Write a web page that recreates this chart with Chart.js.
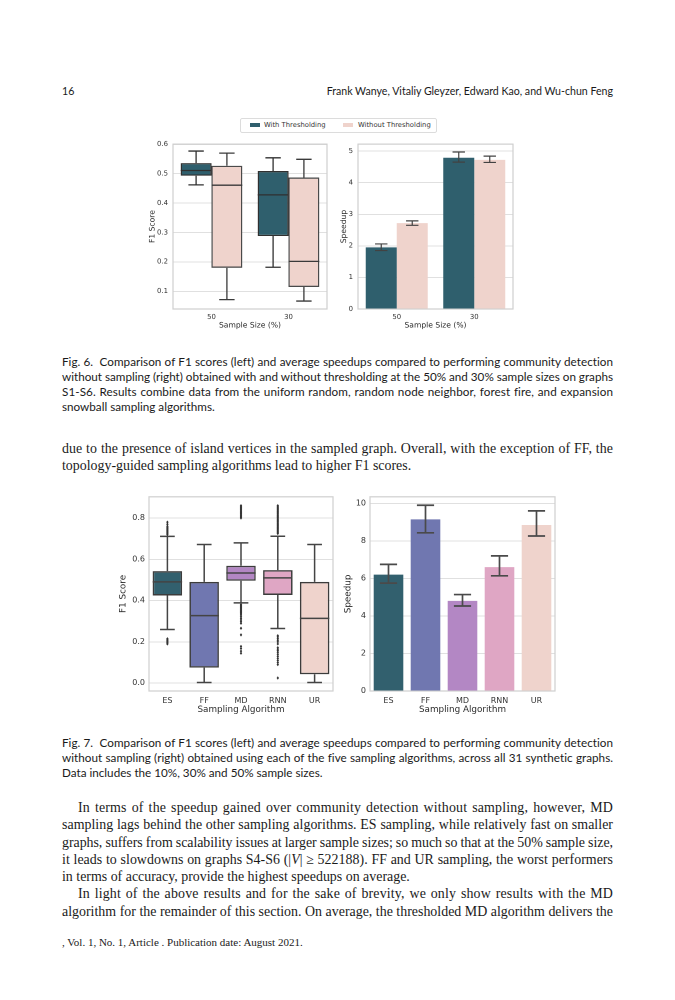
<!DOCTYPE html>
<html><head><meta charset="utf-8">
<script src="https://cdn.jsdelivr.net/npm/chart.js@4.4.0/dist/chart.umd.min.js"></script>
<style>
body{margin:0;background:#fff;}
#page{position:relative;width:675px;height:1000px;overflow:hidden;background:#fff;}
canvas{position:absolute;}
.t{position:absolute;white-space:nowrap;line-height:16px;height:16px;color:#1a1a1a;}
.cap{font-family:Lato,'Noto Sans',sans-serif;font-size:10.8px;}
.bd{font-family:'Liberation Serif',serif;font-size:13.5px;}
.hd{font-family:Lato,sans-serif;font-size:10.6px;}
.ft{font-family:'Liberation Serif',serif;font-size:11px;}
#legend{position:absolute;left:240px;top:118px;width:195px;height:13px;border:1px solid #dcdcdc;border-radius:2px;font-family:'DejaVu Sans',sans-serif;font-size:6.8px;color:#333;}
#legend span{position:absolute;top:2px;line-height:9px;}
#legend i{position:absolute;top:4px;width:10px;height:4px;}
</style></head>
<body><div id="page">
<div class="t hd" style="left:62px;top:83px;">16</div>
<div class="t hd" style="left:300px;top:83px;width:313px;text-align:right;">Frank Wanye, Vitaliy Gleyzer, Edward Kao, and Wu-chun Feng</div>

<div id="legend">
  <i style="left:9px;background:#2f5f6d"></i><span style="left:23px">With Thresholding</span>
  <i style="left:102px;background:#efd3cc"></i><span style="left:117px">Without Thresholding</span>
</div>

<canvas id="c1" width="200" height="205" style="left:130px;top:135px"></canvas>
<canvas id="c2" width="190" height="205" style="left:330px;top:135px"></canvas>

<div class="t cap j" style="left:62px;top:353px;width:551px;">Fig. 6.&nbsp; Comparison of F1 scores (left) and average speedups compared to performing community detection</div>
<div class="t cap j" style="left:62px;top:368px;width:551px;">without sampling (right) obtained with and without thresholding at the 50% and 30% sample sizes on graphs</div>
<div class="t cap j" style="left:62px;top:383px;width:551px;">S1-S6. Results combine data from the uniform random, random node neighbor, forest fire, and expansion</div>
<div class="t cap" style="left:62px;top:398px;">snowball sampling algorithms.</div>

<div class="t bd j" style="left:62px;top:441px;width:551px;">due to the presence of island vertices in the sampled graph. Overall, with the exception of FF, the</div>
<div class="t bd" style="left:62px;top:458px;">topology-guided sampling algorithms lead to higher F1 scores.</div>

<canvas id="c3" width="232" height="237" style="left:105px;top:488px"></canvas>
<canvas id="c4" width="225" height="237" style="left:337px;top:488px"></canvas>

<div class="t cap j" style="left:62px;top:734px;width:551px;">Fig. 7.&nbsp; Comparison of F1 scores (left) and average speedups compared to performing community detection</div>
<div class="t cap j" style="left:62px;top:749px;width:551px;">without sampling (right) obtained using each of the five sampling algorithms, across all 31 synthetic graphs.</div>
<div class="t cap" style="left:62px;top:764px;">Data includes the 10%, 30% and 50% sample sizes.</div>

<div class="t bd j" style="left:78px;top:800px;width:535px;">In terms of the speedup gained over community detection without sampling, however, MD</div>
<div class="t bd j" style="left:62px;top:817px;width:551px;">sampling lags behind the other sampling algorithms. ES sampling, while relatively fast on smaller</div>
<div class="t bd j" style="left:62px;top:835px;width:551px;">graphs, suffers from scalability issues at larger sample sizes; so much so that at the 50% sample size,</div>
<div class="t bd j" style="left:62px;top:852px;width:551px;">it leads to slowdowns on graphs S4-S6 (|<i>V</i>| ≥ 522188). FF and UR sampling, the worst performers</div>
<div class="t bd" style="left:62px;top:869px;">in terms of accuracy, provide the highest speedups on average.</div>
<div class="t bd j" style="left:78px;top:886px;width:535px;">In light of the above results and for the sake of brevity, we only show results with the MD</div>
<div class="t bd j" style="left:62px;top:904px;width:551px;">algorithm for the remainder of this section. On average, the thresholded MD algorithm delivers the</div>

<div class="t ft" style="left:62px;top:934px;">, Vol. 1, No. 1, Article . Publication date: August 2021.</div>
</div>
<script>
// ---------- DATA ----------
// Fig. 6 left: F1 score box plots
const sampleSizes = ['50', '30'];
const seriesNames = ['With Thresholding', 'Without Thresholding'];
const withLo  = [0.462, 0.182];
const withQ1  = [0.493, 0.288];
const withMed = [0.511, 0.428];
const withQ3  = [0.536, 0.509];
const withHi  = [0.577, 0.554];
const woLo  = [0.072, 0.067];
const woQ1  = [0.180, 0.115];
const woMed = [0.461, 0.202];
const woQ3  = [0.527, 0.487];
const woHi  = [0.570, 0.549];
const f1TicksA = [0.1, 0.2, 0.3, 0.4, 0.5, 0.6];
const f1TickLabelsA = ['0.1', '0.2', '0.3', '0.4', '0.5', '0.6'];

// Fig. 6 right: speedup bars with error bars
const withSpeed   = [1.95, 4.79];
const withErrLo   = [1.85, 4.65];
const withErrHi   = [2.06, 4.97];
const woSpeed     = [2.72, 4.72];
const woErrLo     = [2.65, 4.64];
const woErrHi     = [2.79, 4.84];
const spTicksA = [0, 1, 2, 3, 4, 5];
const spTickLabelsA = ['0', '1', '2', '3', '4', '5'];

// Fig. 7 left: F1 score box plots per algorithm
const algorithms = ['ES', 'FF', 'MD', 'RNN', 'UR'];
const algLo  = [0.260, 0.003, 0.389, 0.265, 0.003];
const algQ1  = [0.425, 0.075, 0.496, 0.427, 0.043];
const algMed = [0.491, 0.327, 0.534, 0.510, 0.314];
const algQ3  = [0.543, 0.491, 0.569, 0.548, 0.491];
const algHi  = [0.711, 0.672, 0.680, 0.712, 0.672];
const outES  = [0.72, 0.725, 0.73, 0.735, 0.74, 0.745, 0.75, 0.755, 0.76, 0.77, 0.78, 0.19, 0.195, 0.2, 0.205, 0.21, 0.215];
const outFF  = [];
const outMD  = [0.80, 0.805, 0.81, 0.815, 0.82, 0.825, 0.83, 0.835, 0.84, 0.845, 0.85, 0.855, 0.86,
                0.381, 0.376, 0.371, 0.366, 0.361, 0.356, 0.351, 0.346, 0.341, 0.336, 0.33, 0.322, 0.314, 0.306, 0.298, 0.29, 0.266, 0.234, 0.178, 0.168, 0.155, 0.145];
const outRNN = [0.725, 0.73, 0.735, 0.74, 0.745, 0.75, 0.755, 0.76, 0.765, 0.77, 0.775, 0.78, 0.785, 0.79, 0.795, 0.80, 0.805, 0.81, 0.815, 0.82, 0.825, 0.83, 0.835, 0.84, 0.845, 0.85, 0.855, 0.86,
                0.23, 0.224, 0.216, 0.208, 0.2, 0.19, 0.172, 0.165, 0.158, 0.15, 0.14, 0.13, 0.12, 0.11, 0.1, 0.09, 0.025];
const outUR  = [];
const f1TicksB = [0.0, 0.2, 0.4, 0.6, 0.8];
const f1TickLabelsB = ['0.0', '0.2', '0.4', '0.6', '0.8'];

// Fig. 7 right: speedup per algorithm
const algSpeed = [6.20, 9.15, 4.80, 6.60, 8.85];
const algErrLo = [5.75, 8.43, 4.53, 6.14, 8.26];
const algErrHi = [6.75, 9.90, 5.14, 7.20, 9.60];
const spTicksB = [0, 2, 4, 6, 8, 10];
const spTickLabelsB = ['0', '2', '4', '6', '8', '10'];

// ---------- STYLE ----------
const TEAL = '#2f5f6d', PINK = '#efd3cc';
const algColors = ['#32606e', '#7077b0', '#b387c4', '#dfa6c4', '#efd3cc'];
const FONT = "'DejaVu Sans', sans-serif";

// ---------- PLUGINS ----------
const framePlugin = {
  id: 'frame',
  beforeDatasetsDraw(chart) {
    const {ctx, chartArea: a} = chart;
    ctx.save();
    ctx.strokeStyle = '#cfcfcf';
    ctx.lineWidth = 1.2;
    ctx.strokeRect(a.left, a.top, a.right - a.left, a.bottom - a.top);
    ctx.restore();
  }
};

const boxPlugin = {
  id: 'boxWhisker',
  afterDatasetsDraw(chart) {
    const {ctx} = chart;
    const y = chart.scales.y;
    chart.data.datasets.forEach((ds, di) => {
      if (!ds.box) return;
      const meta = chart.getDatasetMeta(di);
      ctx.save();
      ctx.strokeStyle = ds.lineColor;
      ctx.lineWidth = ds.lineW;
      meta.data.forEach((bar, i) => {
        const x = bar.x, w = bar.width;
        const b = ds.box;
        const pq1 = y.getPixelForValue(b.q1[i]), pq3 = y.getPixelForValue(b.q3[i]);
        const plo = y.getPixelForValue(b.lo[i]), phi = y.getPixelForValue(b.hi[i]);
        const pm = y.getPixelForValue(b.med[i]);
        const cw = w * 0.25;
        ctx.beginPath();
        ctx.moveTo(x, pq3); ctx.lineTo(x, phi);
        ctx.moveTo(x - cw, phi); ctx.lineTo(x + cw, phi);
        ctx.moveTo(x, pq1); ctx.lineTo(x, plo);
        ctx.moveTo(x - cw, plo); ctx.lineTo(x + cw, plo);
        ctx.moveTo(x - w / 2, pm); ctx.lineTo(x + w / 2, pm);
        ctx.stroke();
        if (b.out && b.out[i]) {
          ctx.fillStyle = ds.outColor;
          b.out[i].forEach(v => {
            const py = y.getPixelForValue(v);
            ctx.beginPath();
            ctx.moveTo(x, py - 1.7); ctx.lineTo(x + 1.2, py); ctx.lineTo(x, py + 1.7); ctx.lineTo(x - 1.2, py);
            ctx.closePath(); ctx.fill();
          });
        }
      });
      ctx.restore();
    });
  }
};

const errPlugin = {
  id: 'errBars',
  afterDatasetsDraw(chart) {
    const {ctx} = chart;
    const y = chart.scales.y;
    chart.data.datasets.forEach((ds, di) => {
      if (!ds.err) return;
      const meta = chart.getDatasetMeta(di);
      ctx.save();
      ctx.strokeStyle = ds.errColor;
      ctx.lineWidth = ds.errW;
      meta.data.forEach((bar, i) => {
        const x = bar.x, cw = bar.width * ds.capRatio / 2;
        const pl = y.getPixelForValue(ds.err.lo[i]), ph = y.getPixelForValue(ds.err.hi[i]);
        ctx.beginPath();
        ctx.moveTo(x, pl); ctx.lineTo(x, ph);
        ctx.moveTo(x - cw, ph); ctx.lineTo(x + cw, ph);
        ctx.moveTo(x - cw, pl); ctx.lineTo(x + cw, pl);
        ctx.stroke();
      });
      ctx.restore();
    });
  }
};

// ---------- CHART BUILDER ----------
function makeChart(id, cfg) {
  const {labels, datasets, yMin, yMax, yTicks, yTickLabels, yTitle, xTitle,
         yWidth, xHeight, padTop, padRight, tickSize, titleSize, yTitlePad, xTitlePad,
         yTickPad, xTickPad, catPct, barPct, plugins} = cfg;
  return new Chart(document.getElementById(id), {
    type: 'bar',
    data: {labels, datasets},
    plugins: [framePlugin].concat(plugins),
    options: {
      responsive: false, animation: false,
      devicePixelRatio: 2,
      layout: {padding: {top: padTop, right: padRight, left: 0, bottom: 0}},
      datasets: {bar: {categoryPercentage: catPct, barPercentage: barPct}},
      plugins: {legend: {display: false}, tooltip: {enabled: false}},
      scales: {
        x: {
          grid: {display: false, drawTicks: false},
          border: {display: false},
          ticks: {color: '#333', font: {family: FONT, size: tickSize}, padding: xTickPad, maxRotation: 0},
          title: {display: true, text: xTitle, color: '#2a2a2a', font: {family: FONT, size: titleSize}, padding: {top: 0, bottom: xTitlePad}},
          afterFit(s) { s.height = xHeight; }
        },
        y: {
          min: yMin, max: yMax,
          grid: {color: '#e0e0e0', lineWidth: 1, drawTicks: false},
          border: {display: false},
          afterBuildTicks(s) { s.ticks = yTicks.map(v => ({value: v})); },
          ticks: {color: '#333', font: {family: FONT, size: tickSize}, padding: yTickPad,
                  callback: (v, i) => yTickLabels[i]},
          title: {display: true, text: yTitle, color: '#2a2a2a', font: {family: FONT, size: titleSize}, padding: {top: yTitlePad, bottom: 0}},
          afterFit(s) { s.width = yWidth; }
        }
      }
    }
  });
}

const pair = (a, b) => a.map((v, i) => [v, b[i]]);

// Fig 6 left
makeChart('c1', {
  labels: sampleSizes,
  datasets: [
    {label: seriesNames[0], data: pair(withQ1, withQ3), backgroundColor: TEAL, borderColor: '#303030', borderWidth: 1.3, borderSkipped: false,
     box: {lo: withLo, q1: withQ1, med: withMed, q3: withQ3, hi: withHi}, lineColor: '#303030', lineW: 1.3},
    {label: seriesNames[1], data: pair(woQ1, woQ3), backgroundColor: PINK, borderColor: '#4a4a4a', borderWidth: 1.3, borderSkipped: false,
     box: {lo: woLo, q1: woQ1, med: woMed, q3: woQ3, hi: woHi}, lineColor: '#3a3a3a', lineW: 1.3}
  ],
  yMin: 0.04, yMax: 0.6005, yTicks: f1TicksA, yTickLabels: f1TickLabelsA,
  yTitle: 'F1 Score', xTitle: 'Sample Size (%)',
  yWidth: 43, xHeight: 31, padTop: 9, padRight: 3,
  tickSize: 6.9, titleSize: 7.6, yTitlePad: 18, xTitlePad: 10, yTickPad: 5, xTickPad: 4,
  catPct: 0.8, barPct: 1.0, plugins: [boxPlugin]
});

// Fig 6 right
makeChart('c2', {
  labels: sampleSizes,
  datasets: [
    {label: seriesNames[0], data: withSpeed, backgroundColor: TEAL, borderWidth: 0,
     err: {lo: withErrLo, hi: withErrHi}, errColor: '#424242', errW: 1.2, capRatio: 0.4},
    {label: seriesNames[1], data: woSpeed, backgroundColor: PINK, borderWidth: 0,
     err: {lo: woErrLo, hi: woErrHi}, errColor: '#424242', errW: 1.2, capRatio: 0.4}
  ],
  yMin: 0, yMax: 5.22, yTicks: spTicksA, yTickLabels: spTickLabelsA,
  yTitle: 'Speedup', xTitle: 'Sample Size (%)',
  yWidth: 28, xHeight: 31, padTop: 9, padRight: 7,
  tickSize: 6.9, titleSize: 7.6, yTitlePad: 9.5, xTitlePad: 10, yTickPad: 5, xTickPad: 4,
  catPct: 0.8, barPct: 1.0, plugins: [errPlugin]
});

// Fig 7 left
makeChart('c3', {
  labels: algorithms,
  datasets: [
    {label: 'F1 Score', data: pair(algQ1, algQ3), backgroundColor: algColors, borderColor: '#3c3c3c', borderWidth: 1.5, borderSkipped: false,
     box: {lo: algLo, q1: algQ1, med: algMed, q3: algQ3, hi: algHi, out: [outES, outFF, outMD, outRNN, outUR]},
     lineColor: '#444444', lineW: 1.5, outColor: '#333333'}
  ],
  yMin: -0.038, yMax: 0.903, yTicks: f1TicksB, yTickLabels: f1TickLabelsB,
  yTitle: 'F1 Score', xTitle: 'Sampling Algorithm',
  yWidth: 44, xHeight: 34, padTop: 6, padRight: 4,
  tickSize: 8, titleSize: 8.8, yTitlePad: 13, xTitlePad: 10, yTickPad: 4, xTickPad: 5,
  catPct: 1.0, barPct: 0.8, plugins: [boxPlugin]
});

// Fig 7 right
makeChart('c4', {
  labels: algorithms,
  datasets: [
    {label: 'Speedup', data: algSpeed, backgroundColor: algColors, borderWidth: 0,
     err: {lo: algErrLo, hi: algErrHi}, errColor: '#4a4a4a', errW: 1.7, capRatio: 0.58}
  ],
  yMin: 0, yMax: 10.35, yTicks: spTicksB, yTickLabels: spTickLabelsB,
  yTitle: 'Speedup', xTitle: 'Sampling Algorithm',
  yWidth: 33, xHeight: 34, padTop: 6, padRight: 7,
  tickSize: 8, titleSize: 8.8, yTitlePad: 6, xTitlePad: 10, yTickPad: 4, xTickPad: 5,
  catPct: 1.0, barPct: 0.8, plugins: [errPlugin]
});

// ---------- fit font size per text class, then justify lines ----------
function fitClass(cls) {
  const all = Array.from(document.querySelectorAll('.' + cls));
  const js = all.filter(e => e.classList.contains('j'));
  const base = parseFloat(getComputedStyle(js[0]).fontSize);
  const ratios = [];
  js.forEach(el => {
    const target = parseFloat(el.style.width);
    el.dataset.w = target;
    el.style.width = 'auto';
    const w = el.getBoundingClientRect().width;
    ratios.push(target / w);
  });
  ratios.sort((a, b) => a - b);
  const r = ratios[Math.floor(ratios.length / 2)];
  const size = Math.min(base * r * 0.99, base * 1.15);
  all.forEach(el => el.style.fontSize = size + 'px');
  js.forEach(el => {
    const target = parseFloat(el.dataset.w);
    const w = el.getBoundingClientRect().width;
    const txt = el.textContent;
    const spaces = (txt.match(/[ \u00a0]/g) || []).length;
    const chars = txt.length;
    const extra = target - w;
    if (spaces > 0) {
      el.style.letterSpacing = (extra * 0.45 / chars) + 'px';
      const w2 = el.getBoundingClientRect().width;
      el.style.wordSpacing = ((target - w2) / spaces) + 'px';
    }
    el.style.width = target + 'px';
  });
}
fitClass('cap');
fitClass('bd');
</script>
</body></html>
